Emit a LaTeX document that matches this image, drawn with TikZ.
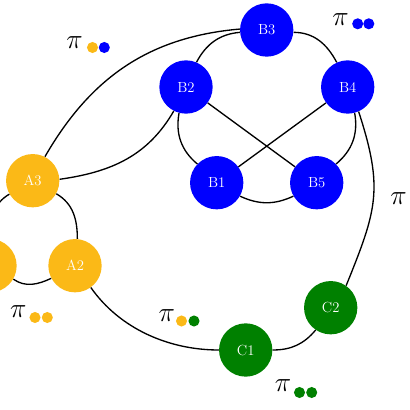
\documentclass[tikz,border=0pt]{standalone}
\definecolor{nodeorange}{RGB}{251,185,23}
\definecolor{nodeblue}{RGB}{0,0,255}
\definecolor{nodegreen}{RGB}{0,128,0}
\begin{document}
\begin{tikzpicture}[x=0.75pt,y=0.75pt,
  vtx/.style={circle,minimum size=40pt,inner sep=0pt,text=white,font=\fontsize{11}{13}\selectfont},
  bvtx/.style={vtx,fill=nodeblue},
  ovtx/.style={vtx,fill=nodeorange},
  gvtx/.style={vtx,fill=nodegreen},
  edge/.style={line width=1pt,black},
  pilab/.style={font=\fontsize{20}{22}\selectfont,inner sep=0pt},
  sdot/.style={circle,minimum size=8.3pt,inner sep=0pt}
]
\useasboundingbox (0,0) rectangle (410,410);
% vertices
\node[bvtx] (B3) at (266.7,380) {B3};
\node[bvtx] (B2) at (186,323) {B2};
\node[bvtx] (B4) at (347.7,323) {B4};
\node[bvtx] (B1) at (216.7,227.3) {B1};
\node[bvtx] (B5) at (316.7,227.3) {B5};
\node[ovtx] (A3) at (32.7,229.3) {A3};
\node[ovtx] (A2) at (75,144.3) {A2};
\node[ovtx] (A1) at (-10,144.3) {A1};
\node[gvtx] (C1) at (245.7,60) {C1};
\node[gvtx] (C2) at (330.7,102.3) {C2};
% edges
\draw[edge] (B3.185) to[out=185,in=62] (B2.67);
\draw[edge] (B3.355) to[out=0,in=118] (B4.114);
\draw[edge] (B3.178) to[out=185,in=60] (A3.63);
\draw[edge] (B2.243) to[out=240,in=8] (A3.3);
\draw[edge] (B2) -- (B5);
\draw[edge] (B4) -- (B1);
\draw[edge] (B2.255) to[out=260,in=140] (B1.136);
\draw[edge] (B4.285) to[out=280,in=40] (B5.44);
\draw[edge] (B1.330) to[out=-25,in=205] (B5.210);
\draw[edge] (B4.294) to[out=-72,in=68,looseness=1.2] (C2.55);
\draw[edge] (C1.0) to[out=0,in=230] (C2.236);
\draw[edge] (A2.306) to[out=-55,in=180,looseness=0.9] (C1.180);
\draw[edge] (A3.331) to[out=-30,in=90] (A2.85);
\draw[edge] (A1.330) to[out=-35,in=205] (A2.208);
\draw[edge] (A3.210) to[out=210,in=90] (A1.90);
% labels
\node[pilab] (p1) at (74.5,367) {$\pi$};
\node[sdot,fill=nodeorange] (p1a) at (92.5,362.5) {};
\node[sdot,fill=nodeblue] (p1b) at (104.3,362.5) {};
\node[pilab] (p2) at (340.5,390) {$\pi$};
\node[sdot,fill=nodeblue] (p2a) at (357.7,386.2) {};
\node[sdot,fill=nodeblue] (p2b) at (368.8,386.2) {};
\node[pilab] (p3) at (18.3,98) {$\pi$};
\node[sdot,fill=nodeorange] (p3a) at (35,92.5) {};
\node[sdot,fill=nodeorange] (p3b) at (47.3,92.5) {};
\node[pilab] (p4) at (166.7,94) {$\pi$};
\node[sdot,fill=nodeorange] (p4a) at (181.5,89) {};
\node[sdot,fill=nodegreen] (p4b) at (194,89) {};
\node[pilab] (p5) at (283,24) {$\pi$};
\node[sdot,fill=nodegreen] (p5a) at (299.5,17.5) {};
\node[sdot,fill=nodegreen] (p5b) at (311.7,17.5) {};
\node[pilab] (p6) at (398.5,211) {$\pi$};
\end{tikzpicture}
\end{document}
